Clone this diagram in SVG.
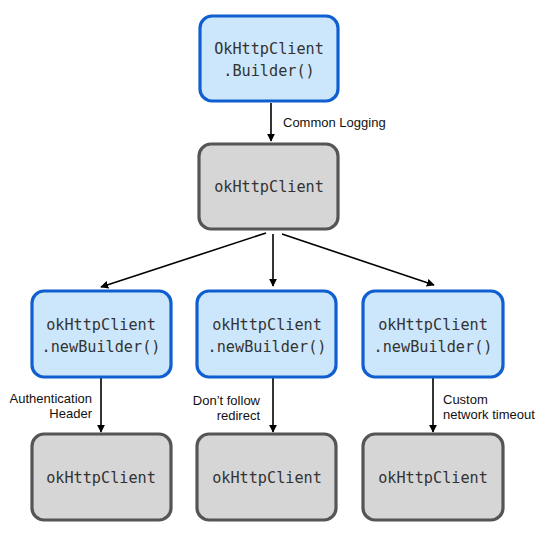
<svg xmlns="http://www.w3.org/2000/svg" width="552" height="537" viewBox="0 0 552 537">
<style>
.blue{fill:#cce7fb;stroke:#0f5fd0;stroke-width:3.2}
.gray{fill:#d6d6d6;stroke:#555555;stroke-width:3.2}
.code{font-family:"DejaVu Sans Mono","Liberation Mono",monospace;font-size:15.2px;fill:#333;text-anchor:middle}
.lbl{font-family:"Liberation Sans",Arial,sans-serif;font-size:13px;fill:#111}
.edge{stroke:#000;stroke-width:1.6;fill:none;marker-end:url(#ah)}
</style>
<defs>
<marker id="ah" viewBox="0 0 10 10" refX="9" refY="5" markerWidth="5" markerHeight="5" orient="auto" markerUnits="strokeWidth">
<path d="M0,0 L10,5 L0,10 z" fill="#000"/>
</marker>
</defs>
<rect width="552" height="537" fill="#fff"/>
<g id="connectors">
<line class="edge" x1="271" y1="103" x2="271" y2="141"/>
<line class="edge" x1="266" y1="233" x2="101" y2="287"/>
<line class="edge" x1="273" y1="234" x2="273" y2="286"/>
<line class="edge" x1="282" y1="234" x2="434" y2="285"/>
<line class="edge" x1="101" y1="378" x2="101" y2="432"/>
<line class="edge" x1="273" y1="378" x2="273" y2="432"/>
<line class="edge" x1="433" y1="378" x2="433" y2="432"/>
<text class="lbl" x="283" y="127">Common Logging</text>
<text class="lbl" x="92" y="403" text-anchor="end">Authentication</text>
<text class="lbl" x="92" y="418" text-anchor="end">Header</text>
<text class="lbl" x="260" y="405" text-anchor="end">Don’t follow</text>
<text class="lbl" x="260" y="420" text-anchor="end">redirect</text>
<text class="lbl" x="443" y="404">Custom</text>
<text class="lbl" x="443" y="419">network timeout</text>
</g>
<g id="builder">
<rect class="blue" x="200" y="16" width="138" height="85" rx="12"/>
<text class="code" x="269" y="54">OkHttpClient</text>
<text class="code" x="269" y="76">.Builder()</text>
</g>
<g id="client">
<rect class="gray" x="199" y="144" width="139" height="85" rx="12"/>
<text class="code" x="269" y="192">okHttpClient</text>
</g>
<g id="nb1">
<rect class="blue" x="32" y="291" width="139" height="86" rx="12"/>
<text class="code" x="101" y="330">okHttpClient</text>
<text class="code" x="101" y="352">.newBuilder()</text>
</g>
<g id="nb2">
<rect class="blue" x="197" y="291" width="139" height="86" rx="12"/>
<text class="code" x="267" y="330">okHttpClient</text>
<text class="code" x="267" y="352">.newBuilder()</text>
</g>
<g id="nb3">
<rect class="blue" x="363" y="291" width="140" height="86" rx="12"/>
<text class="code" x="433" y="330">okHttpClient</text>
<text class="code" x="433" y="352">.newBuilder()</text>
</g>
<g id="c1">
<rect class="gray" x="32" y="434" width="139" height="86" rx="12"/>
<text class="code" x="101" y="483">okHttpClient</text>
</g>
<g id="c2">
<rect class="gray" x="197" y="434" width="139" height="86" rx="12"/>
<text class="code" x="267" y="483">okHttpClient</text>
</g>
<g id="c3">
<rect class="gray" x="363" y="434" width="140" height="86" rx="12"/>
<text class="code" x="433" y="483">okHttpClient</text>
</g>
</svg>
